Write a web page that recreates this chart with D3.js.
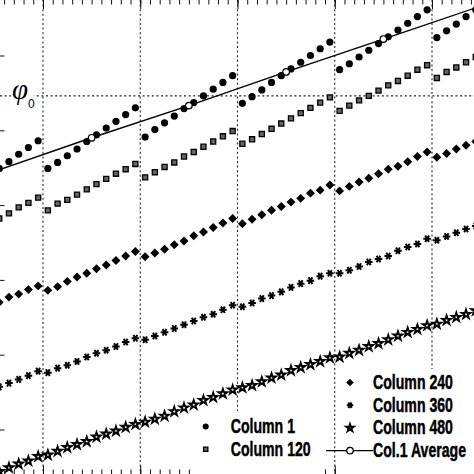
<!DOCTYPE html>
<html>
<head>
<meta charset="utf-8">
<script src="https://cdn.jsdelivr.net/npm/d3@7"></script>
<style>
html, body { margin: 0; padding: 0; background: #fff; }
svg { display: block; }
</style>
</head>
<body>
<div id="chart"></div>
<script>

// sample positions (column index along the row)
var sampleX = [55, 65, 75, 85, 95,
  105, 115, 125, 135, 145, 155, 165, 175, 185, 195,
  205, 215, 225, 235, 245, 255, 265, 275, 285, 295,
  305, 315, 325, 335, 345, 355, 365, 375, 385, 395,
  405, 415, 425, 435, 445, 455, 465, 475, 485, 495,
  505, 515, 525, 535, 545];

var column1 = [0.349, 0.358, 0.368, 0.377, 0.386,
  0.349, 0.357, 0.366, 0.375, 0.385, 0.394, 0.403, 0.412, 0.421, 0.430,
  0.391, 0.401, 0.410, 0.419, 0.429, 0.437, 0.446, 0.455, 0.464, 0.473,
  0.436, 0.445, 0.454, 0.464, 0.473, 0.482, 0.491, 0.500, 0.509, 0.518,
  0.481, 0.489, 0.498, 0.507, 0.516, 0.525, 0.534, 0.543, 0.552, 0.561,
  0.524, 0.533, 0.542, 0.552, 0.561];

var column120 = [0.282, 0.289, 0.297, 0.303, 0.310,
  0.293, 0.302, 0.307, 0.314, 0.321, 0.328, 0.335, 0.342, 0.348, 0.355,
  0.337, 0.344, 0.351, 0.357, 0.365, 0.371, 0.378, 0.385, 0.392, 0.399,
  0.382, 0.388, 0.395, 0.402, 0.409, 0.416, 0.423, 0.430, 0.437, 0.444,
  0.426, 0.433, 0.440, 0.446, 0.453, 0.460, 0.466, 0.473, 0.481, 0.487,
  0.470, 0.478, 0.484, 0.491, 0.498];

var column240 = [0.170, 0.177, 0.181, 0.187, 0.192,
  0.186, 0.191, 0.198, 0.204, 0.209, 0.215, 0.220, 0.226, 0.232, 0.238,
  0.231, 0.236, 0.241, 0.247, 0.252, 0.259, 0.264, 0.270, 0.276, 0.282,
  0.275, 0.281, 0.287, 0.293, 0.298, 0.304, 0.309, 0.316, 0.320, 0.327,
  0.319, 0.325, 0.331, 0.336, 0.342, 0.348, 0.352, 0.358, 0.365, 0.371,
  0.364, 0.369, 0.375, 0.380, 0.385];

var column360 = [0.057, 0.062, 0.067, 0.072, 0.078,
  0.076, 0.082, 0.086, 0.091, 0.097, 0.102, 0.106, 0.111, 0.117, 0.122,
  0.120, 0.125, 0.130, 0.135, 0.140, 0.145, 0.150, 0.154, 0.160, 0.166,
  0.164, 0.169, 0.175, 0.179, 0.184, 0.190, 0.195, 0.199, 0.205, 0.209,
  0.209, 0.213, 0.218, 0.224, 0.228, 0.232, 0.239, 0.244, 0.248, 0.255,
  0.253, 0.258, 0.263, 0.268, 0.272];

var column480 = [-0.056, -0.051, -0.046, -0.042, -0.036,
  -0.034, -0.029, -0.024, -0.020, -0.016, -0.010, -0.006, -0.002, 0.003, 0.007,
  0.010, 0.014, 0.018, 0.024, 0.029, 0.033, 0.039, 0.043, 0.048, 0.053,
  0.056, 0.059, 0.064, 0.069, 0.073, 0.079, 0.083, 0.087, 0.091, 0.096,
  0.097, 0.102, 0.106, 0.111, 0.115, 0.120, 0.125, 0.130, 0.134, 0.139,
  0.141, 0.146, 0.150, 0.154, 0.159];

// column 1 averaged per block of ten samples
var avgX = [50, 150, 250, 350, 450, 550];
var avgValues = [0.345, 0.390, 0.433, 0.478, 0.522, 0.566];

var gridX = [100, 200, 300, 400, 500];
var yTicks = [0, 0.1, 0.2, 0.3, 0.4, 0.5];
var phi0 = 0.446;

var legendLeft = ["Column 1", "Column 120"];
var legendRight = ["Column 240", "Column 360", "Column 480", "Col.1 Average"];

var W = 474, H = 474;

var x = d3.scaleLinear().domain([100, 500]).range([43, 432]);
var y = d3.scaleLinear().domain([-0.0595, 0.5742]).range([H, 0]);

var svg = d3.select("#chart").append("svg")
  .attr("width", W)
  .attr("height", H);

var dotted = "2,2.6";

// vertical grid
svg.append("g")
  .selectAll("line")
  .data(gridX)
  .enter()
  .append("line")
  .attr("x1", function(d){ return x(d); })
  .attr("x2", function(d){ return x(d); })
  .attr("y1", 0)
  .attr("y2", H)
  .attr("stroke", "#222")
  .attr("stroke-width", 1.1)
  .attr("stroke-dasharray", dotted);

// phi_0 reference level
svg.append("line")
  .attr("x1", 0)
  .attr("x2", W)
  .attr("y1", y(phi0))
  .attr("y2", y(phi0))
  .attr("stroke", "#222")
  .attr("stroke-width", 1.1)
  .attr("stroke-dasharray", dotted);

// ticks (frame lines sit just outside the picture)
function tickAxis(axis, pos){
  var g = svg.append("g").attr("transform", pos).call(axis);
  g.select(".domain").remove();
  g.selectAll(".tick line").attr("stroke", "#111").attr("stroke-width", 1);
  g.selectAll(".tick text").remove();
}
var minorX = d3.range(60, 550, 10);
tickAxis(d3.axisBottom(x).tickValues(minorX).tickSize(4.5), "translate(0,0)");
tickAxis(d3.axisBottom(x).tickValues(gridX).tickSize(9), "translate(0,0)");
tickAxis(d3.axisTop(x).tickValues(minorX).tickSize(4.5), "translate(0," + H + ")");
tickAxis(d3.axisTop(x).tickValues(gridX).tickSize(8.5), "translate(0," + H + ")");
tickAxis(d3.axisRight(y).tickValues(yTicks).tickSize(4.5), "translate(0,0)");

// markers
function drawMarker(g, type, k){
  k = k || 1;
  if (type === "circle") {
    g.append("circle").attr("r", 3.6 * k).attr("fill", "#000");
  } else if (type === "square") {
    g.append("path").attr("d", d3.symbol(d3.symbolSquare, 26 * k * k)())
      .attr("fill", "#666").attr("stroke", "#000").attr("stroke-width", 1.3);
  } else if (type === "diamond") {
    g.append("path").attr("d", d3.symbol(d3.symbolSquare, 40 * k * k)())
      .attr("transform", "rotate(45)")
      .attr("fill", "#000");
  } else if (type === "asterisk") {
    g.append("path").attr("d", d3.symbol(d3.symbolAsterisk, 40 * k * k)())
      .attr("transform", "rotate(90)")
      .attr("fill", "none").attr("stroke", "#000").attr("stroke-width", 2);
  } else if (type === "star") {
    g.append("path").attr("d", d3.symbol(d3.symbolStar, 24 * k * k)())
      .attr("fill", "#fff").attr("stroke", "#000").attr("stroke-width", 1.9)
      .attr("stroke-linejoin", "miter");
  } else if (type === "open") {
    g.append("circle").attr("r", 3.3)
      .attr("fill", "#fff").attr("stroke", "#000").attr("stroke-width", 1.2);
  }
}

var series = [
  {values: column1, type: "circle"},
  {values: column120, type: "square"},
  {values: column240, type: "diamond"},
  {values: column360, type: "asterisk"},
  {values: column480, type: "star"}
];

series.forEach(function(s){
  svg.append("g")
    .selectAll("g")
    .data(sampleX.map(function(d, i){ return [d, s.values[i]]; }))
    .enter()
    .append("g")
    .attr("transform", function(d){ return "translate(" + x(d[0]) + "," + y(d[1]) + ")"; })
    .each(function(){ drawMarker(d3.select(this), s.type); });
});

// column 1 average
var avgPts = avgX.map(function(d, i){ return [d, avgValues[i]]; });
svg.append("path")
  .datum(avgPts)
  .attr("d", d3.line().x(function(d){ return x(d[0]); }).y(function(d){ return y(d[1]); }))
  .attr("fill", "none")
  .attr("stroke", "#000")
  .attr("stroke-width", 1.4);
svg.append("g")
  .selectAll("g")
  .data(avgPts)
  .enter()
  .append("g")
  .attr("transform", function(d){ return "translate(" + x(d[0]) + "," + y(d[1]) + ")"; })
  .each(function(){ drawMarker(d3.select(this), "open"); });

// phi_0 label
var py = y(phi0);
svg.append("rect")
  .attr("x", 11).attr("y", py - 11).attr("width", 23).attr("height", 24)
  .attr("fill", "#fff");
var phi = svg.append("text")
  .attr("x", 12)
  .attr("y", py + 3)
  .style("font-family", "'Liberation Serif', 'DejaVu Serif', serif")
  .style("font-style", "italic")
  .style("font-size", "29px")
  .text("φ");
phi.append("tspan")
  .attr("dy", 9)
  .attr("dx", 0)
  .style("font-family", "'Liberation Sans', Arial, sans-serif")
  .style("font-style", "normal")
  .style("font-size", "12px")
  .text("0");

// legends
var rowGap = 22.7;
svg.append("rect").attr("x", 198).attr("y", 411).attr("width", 122).attr("height", 70).attr("fill", "#fff");
svg.append("rect").attr("x", 337).attr("y", 369).attr("width", 140).attr("height", 110).attr("fill", "#fff");

var labels = [];
function legendBlock(names, types, mx, tx, base){
  names.forEach(function(name, i){
    var by = base + i * rowGap;
    var m = svg.append("g").attr("transform", "translate(" + mx + "," + (by - 6.5) + ")");
    if (types[i] === "avg") {
      m.append("line").attr("x1", -24).attr("x2", tx - mx).attr("y1", 0).attr("y2", 0)
        .attr("stroke", "#000").attr("stroke-width", 1.4);
      drawMarker(m, "open");
    } else {
      drawMarker(m, types[i], 0.85);
    }
    var t = svg.append("g").attr("transform", "translate(" + tx + "," + by + ")");
    labels.push(t.append("text")
      .style("font-family", "'Liberation Sans Narrow', 'Arial Narrow', 'Liberation Sans', Arial, sans-serif")
      .style("font-weight", "bold")
      .style("font-size", "19.5px")
      .attr("stroke", "#000")
      .attr("stroke-width", 0.45)
      .text(name));
  });
}
legendBlock(legendLeft, ["circle", "square"], 205.7, 230.7, 433);
legendBlock(legendRight, ["diamond", "asterisk", "star", "avg"], 350, 373, 389);

// squeeze labels to the narrow face used in the figure
var ref = labels[1].node().getComputedTextLength();
var sx = 80 / ref;
labels.forEach(function(t){ t.attr("transform", "scale(" + sx + ",1)"); });

</script>
</body>
</html>
